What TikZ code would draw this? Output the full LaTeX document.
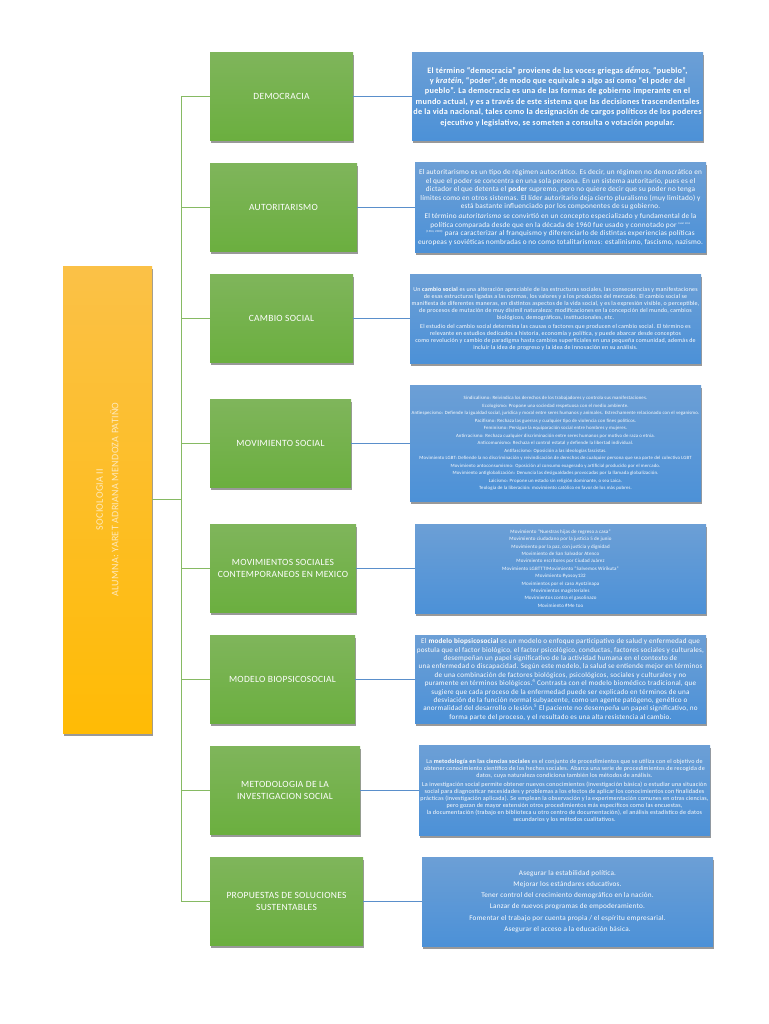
\documentclass[tikz,border=0pt]{standalone}
\usepackage{fontspec}
\setmainfont{Carlito}[LetterSpace=3]
\usetikzlibrary{shadows}
\definecolor{verdeA}{HTML}{7FB55B}
\definecolor{verdeB}{HTML}{6BAF3F}
\definecolor{azulA}{HTML}{6C9FD6}
\definecolor{azulB}{HTML}{4C91D7}
\definecolor{naranjaA}{HTML}{FBC147}
\definecolor{naranjaB}{HTML}{FFBB05}
\definecolor{ramaV}{HTML}{86BA63}
\definecolor{ramaA}{HTML}{5A8FCB}
\newcommand{\letra}[2]{\fontsize{#1}{#2}\selectfont}

\begin{document}
\begin{tikzpicture}[x=1pt, y=1pt,
	caja/.style = {rectangle, inner sep=0pt, align=center, text=white, drop shadow={shadow xshift=1.2pt, shadow yshift=-2.5pt, opacity=.4, fill=black}},
	raiz/.style = {caja, top color=naranjaA, bottom color=naranjaB},
	tema/.style = {caja, minimum height=88pt, top color=verdeA, bottom color=verdeB, font=\letra{9.5}{11.5}},
	defi/.style = {caja, minimum width=291pt, top color=azulA, bottom color=azulB},
	rama/.style = {draw=ramaV, line width=.9pt},
	enlace/.style = {draw=ramaA, line width=.9pt}]
	\useasboundingbox (0,0) rectangle (768,-1024);
	\coordinate (tronco) at (181,-499);

	\node[raiz, minimum width=89pt, minimum height=467pt] (soc) at (107.5,-499.5) {};
	\node[rotate=90, align=center, text=naranjaA!35!white, font=\letra{10}{15.5}] (soctxt) at (soc.center) {SOCIOLOGIA II\\ALUMNA: YARET ADRIANA MENDOZA PATIÑO};

	\node[tema, minimum width=143pt] (dem) at (281.5,-96.5) {DEMOCRACIA};
	\node[tema, minimum width=147pt] (aut) at (283.5,-207.5) {AUTORITARISMO};
	\node[tema, minimum width=143pt] (cam) at (281.5,-318.5) {CAMBIO SOCIAL};
	\node[tema, minimum width=141pt] (mov) at (280.5,-443.5) {MOVIMIENTO SOCIAL};
	\node[tema, minimum width=146pt] (con) at (283,-568.5) {MOVIMIENTOS SOCIALES\\CONTEMPORANEOS EN MEXICO};
	\node[tema, minimum width=145pt] (bio) at (282.5,-679.5) {MODELO BIOPSICOSOCIAL};
	\node[tema, minimum width=150pt] (met) at (285,-790.5) {METODOLOGIA DE LA\\INVESTIGACION SOCIAL};
	\node[tema, minimum width=153pt] (pro) at (286.5,-901.5) {PROPUESTAS DE SOLUCIONES\\SUSTENTABLES};

	\node[defi, minimum height=88pt, font=\letra{8.25}{10.4}\bfseries] (d1) at (557.5,-96.5) {El término “democracia” proviene de las voces griegas \textit{dḗmos}, “pueblo”,\\y \textit{kratéin}, “poder”, de modo que equivale a algo así como “el poder del\\pueblo”. La democracia es una de las formas de gobierno imperante en el\\mundo actual, y es a través de este sistema que las decisiones trascendentales\\de la vida nacional, tales como la designación de cargos políticos de los poderes\\ejecutivo y legislativo, se someten a consulta o votación popular.};
	\node[defi, minimum height=89pt, font=\letra{7.25}{8.6}] (d2) at (560.5,-207.5) {El autoritarismo es un tipo de régimen autocrático. Es decir, un régimen no democrático en\\el que el poder se concentra en una sola persona. En un sistema autoritario, pues es el\\dictador el que detenta el \textbf{poder} supremo, pero no quiere decir que su poder no tenga\\límites como en otros sistemas. El líder autoritario deja cierto pluralismo (muy limitado) y\\está bastante influenciado por los componentes de su gobierno.\\[1pt]El término \textit{autoritarismo} se convirtió en un concepto especializado y fundamental de la\\política comparada desde que en la década de 1960 fue usado y connotado por \textsuperscript{\letra{3}{3}Juan Linz}\\\textsuperscript{\letra{3}{3}(1964, 2000)} para caracterizar al franquismo y diferenciarlo de distintas experiencias políticas\\europeas y soviéticas nombradas o no como totalitarismos: estalinismo, fascismo, nazismo.};
	\node[defi, minimum height=89pt, font=\letra{6}{7}] (d3) at (555.5,-318.5) {Un \textbf{cambio social} es una alteración apreciable de las estructuras sociales, las consecuencias y manifestaciones\\de esas estructuras ligadas a las normas, los valores y a los productos del mercado. El cambio social se\\manifiesta de diferentes maneras, en distintos aspectos de la vida social, y es la expresión visible, o perceptible,\\de procesos de mutación de muy disímil naturaleza: modificaciones en la concepción del mundo, cambios\\biológicos, demográficos, institucionales, etc.\\[2pt]El estudio del cambio social determina las causas o factores que producen el cambio social. El término es\\relevante en estudios dedicados a historia, economía y política, y puede abarcar desde conceptos\\como revolución y cambio de paradigma hasta cambios superficiales en una pequeña comunidad, además de\\incluir la idea de progreso y la idea de innovación en su análisis.};
	\node[defi, minimum height=116pt, font=\letra{4.8}{7.5}] (d4) at (555.5,-443.5) {Sindicalismo: Reivindica los derechos de los trabajadores y controla sus manifestaciones.\\Ecologismo: Propone una sociedad respetuosa con el medio ambiente.\\Antiespecismo: Defiende la igualdad social, jurídica y moral entre seres humanos y animales. Estrechamente relacionado con el veganismo.\\Pacifismo: Rechaza las guerras y cualquier tipo de violencia con fines políticos.\\Feminismo: Persigue la equiparación social entre hombres y mujeres.\\Antirracismo: Rechaza cualquier discriminación entre seres humanos por motivo de raza o etnia.\\Anticomunismo: Rechaza el control estatal y defiende la libertad individual.\\Antifascismo: Oposición a las ideologías fascistas.\\Movimiento LGBT: Defiende la no discriminación y reivindicación de derechos de cualquier persona que sea parte del colectivo LGBT\\Movimiento antoconsumismo: Oposición al consumo exagerado y artificial producido por el mercado.\\Movimiento antiglobalización: Denuncia las desigualdades provocadas por la llamada globalización.\\Laicismo: Propone un estado sin religión dominante, o sea Laica.\\Teología de la liberación: movimiento católico en favor de los más pobres.};
	\node[defi, minimum height=89pt, font=\letra{5}{7.4}] (d5) at (560.5,-568.5) {Movimiento “Nuestras hijas de regreso a casa”\\Movimiento ciudadano por la justicia 5 de junio\\Movimiento por la paz, con justicia y dignidad\\Movimiento de San Salvador Atenco\\Movimiento escritores por Ciudad Juárez\\Movimiento LGBTTTIMovimiento “Salvemos Wirikuta”\\Movimiento \#yosoy132\\Movimientos por el caso Ayotzinapa\\Movimientos magisteriales\\Movimientos contra el gasolinazo\\Movimiento \#Me too};
	\node[defi, minimum height=88pt, font=\letra{7.15}{8.4}] (d6) at (560.5,-679.5) {El \textbf{modelo biopsicosocial} es un modelo o enfoque participativo de salud y enfermedad que\\postula que el factor biológico, el factor psicológico, conductas, factores sociales y culturales,\\desempeñan un papel significativo de la actividad humana en el contexto de\\una enfermedad o discapacidad. Según este modelo, la salud se entiende mejor en términos\\de una combinación de factores biológicos, psicológicos, sociales y culturales y no\\puramente en términos biológicos.\textsuperscript{4} Contrasta con el modelo biomédico tradicional, que\\sugiere que cada proceso de la enfermedad puede ser explicado en términos de una\\desviación de la función normal subyacente, como un agente patógeno, genético o\\anormalidad del desarrollo o lesión.\textsuperscript{5} El paciente no desempeña un papel significativo, no\\forma parte del proceso, y el resultado es una alta resistencia al cambio.};
	\node[defi, minimum height=90pt, font=\letra{6.1}{7}] (d7) at (564.5,-790.5) {La \textbf{metodología en las ciencias sociales} es el conjunto de procedimientos que se utiliza con el objetivo de\\obtener conocimiento científico de los hechos sociales. Abarca una serie de procedimientos de recogida de\\datos, cuya naturaleza condiciona también los métodos de análisis.\\[2pt]La investigación social permite obtener nuevos conocimientos (investigación básica) o estudiar una situación\\social para diagnosticar necesidades y problemas a los efectos de aplicar los conocimientos con finalidades\\prácticas (investigación aplicada). Se emplean la observación y la experimentación comunes en otras ciencias,\\pero gozan de mayor extensión otros procedimientos más específicos como las encuestas,\\la documentación (trabajo en biblioteca u otro centro de documentación), el análisis estadístico de datos\\secundarios y los métodos cualitativos.};
	\node[defi, minimum height=89pt, font=\letra{7.2}{11.2}] (d8) at (567.5,-901.5) {Asegurar la estabilidad política.\\Mejorar los estándares educativos.\\Tener control del crecimiento demográfico en la nación.\\Lanzar de nuevos programas de empoderamiento.\\Fomentar el trabajo por cuenta propia / el espíritu empresarial.\\Asegurar el acceso a la educación básica.};

	\draw[rama] (soc.east) -- (soc.east -| tronco);
	\draw[rama] (dem.west -| tronco) -- (pro.west -| tronco);
	\foreach \t/\d in {dem/d1, aut/d2, cam/d3, mov/d4, con/d5, bio/d6, met/d7, pro/d8} {
		\draw[rama] (\t.west -| tronco) -- (\t.west);
		\draw[enlace] (\t.east) -- (\t.east -| \d.west);
	}
\end{tikzpicture}
\end{document}
